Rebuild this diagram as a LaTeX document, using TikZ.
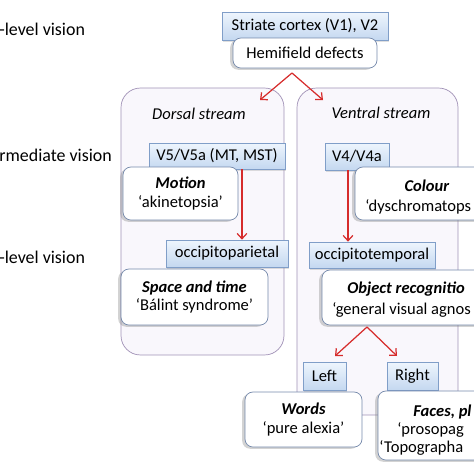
\documentclass[tikz,border=0pt]{standalone}
\usepackage{fontspec}
\setmainfont{Carlito}
\usetikzlibrary{positioning,arrows.meta,shadows}
\definecolor{boxline}{RGB}{128,158,200}
\definecolor{boxtop}{RGB}{238,245,253}
\definecolor{boxbot}{RGB}{196,216,240}
\definecolor{cardline}{RGB}{118,138,172}
\definecolor{streamline}{RGB}{160,145,182}
\definecolor{streamfill}{RGB}{249,247,252}
\definecolor{arrowred}{RGB}{214,44,44}
\tikzset{
  stream/.style={rectangle,rounded corners=11pt,draw=streamline,fill=streamfill,thin},
  area/.style={rectangle,draw=boxline,top color=boxtop,bottom color=boxbot,inner sep=2pt,font=\fontsize{9.4}{11}\selectfont,drop shadow={shadow xshift=0.6pt,shadow yshift=-1.2pt,opacity=0.25}},
  deficit/.style={rectangle,rounded corners=4.5pt,draw=cardline,fill=white,align=center,inner sep=2pt,font=\fontsize{9.4}{10.6}\selectfont,drop shadow={shadow xshift=-1.6pt,shadow yshift=-1pt,opacity=0.35}},
  note/.style={inner sep=0pt,font=\fontsize{9.4}{10.6}\selectfont},
  tier/.style={inner sep=0pt,anchor=west,font=\fontsize{10.2}{12}\selectfont},
  edge/.style={-{Straight Barb[length=3pt,width=5.5pt]},draw=arrowred,line width=0.7pt}
}
\begin{document}
\begin{tikzpicture}[x=0.02cm,y=-0.02cm]
  \useasboundingbox (0,0) rectangle (474,474);
  \clip (0,0) rectangle (474,474);
  % processing levels
  \node[tier] (low) at (-1,29) {-level vision};
  \node[tier] (mid) at (-1,155) {rmediate vision};
  \node[tier] (high) at (-1,257) {-level vision};
  % the two streams
  \node[stream,minimum width=3.26cm,minimum height=5.34cm] (dorsal) at (202.5,221.5) {};
  \node[stream,minimum width=3.22cm,minimum height=6.54cm] (ventral) at (377.5,251.5) {};
  \node[note,font=\fontsize{9.4}{11}\selectfont\itshape] (dtitle) at (199,114) {Dorsal stream};
  \node[note,font=\fontsize{9.4}{11}\selectfont\itshape] (vtitle) at (381,113) {Ventral stream};
  % early vision
  \node[area,minimum width=3.32cm,minimum height=0.56cm] (v1) at (305,26) {Striate cortex (V1), V2};
  \node[deficit,minimum width=2.88cm,minimum height=0.6cm] (hemi) at (305,53) {Hemifield defects};
  \coordinate (fork) at (292,73);
  \coordinate (dtop) at (260,100);
  \coordinate (vtop) at (323,100);
  \draw[edge] (fork) -- (dtop);
  \draw[edge] (fork) -- (vtop);
  % dorsal
  \node[area,minimum width=2.72cm,minimum height=0.52cm] (v5) at (217,156) {V5/V5a (MT, MST)};
  \node[area,minimum width=2.44cm,minimum height=0.54cm] (opar) at (227,253.5) {occipitoparietal};
  \draw[edge] ([xshift=0.5cm]v5.south) -- ([xshift=0.5cm]v5.south |- opar.north);
  \node[deficit,minimum width=2.30cm,minimum height=1.06cm] (motion) at (180.5,193.5) {\textbf{\textit{Motion}}\\‘akinetopsia’};
  \node[deficit,minimum width=2.94cm,minimum height=1.12cm] (space) at (194.5,297) {\textbf{\textit{Space and time}}\\‘Bálint syndrome’};
  % ventral
  \node[area,minimum width=1.28cm,minimum height=0.54cm] (v4) at (357,156.5) {V4/V4a};
  \node[area,minimum width=2.52cm,minimum height=0.52cm] (otemp) at (372,255) {occipitotemporal};
  \draw[edge] ([xshift=-0.18cm]v4.south) -- ([xshift=-0.18cm]v4.south |- otemp.north);
  \node[deficit,minimum width=2.9cm,minimum height=1.06cm] (colour) at (427.5,193.5) {};
  \node[note] (chead) at (427,186) {\textbf{\textit{Colour}}};
  \node[note,anchor=west] (cnote) at (365,207) {‘dyschromatops};
  \node[deficit,minimum width=3.96cm,minimum height=1.1cm] (object) at (421,297.5) {};
  \node[note,anchor=west] (ohead) at (347,289) {\textbf{\textit{Object recognitio}}};
  \node[note,anchor=west] (onote) at (332,310) {‘general visual agnos};
  \coordinate (split) at (367,327);
  \coordinate (ltop) at (335,356);
  \coordinate (rtop) at (397,356);
  \draw[edge] (split) -- (ltop);
  \draw[edge] (split) -- (rtop);
  \node[area,minimum width=0.86cm,minimum height=0.56cm] (left) at (324.5,376) {Left};
  \node[area,minimum width=1.02cm,minimum height=0.56cm] (right) at (412.5,376) {Right};
  \node[deficit,minimum width=2.34cm,minimum height=1.1cm] (words) at (303.5,419.5) {\textbf{\textit{Words}}\\‘pure alexia’};
  \node[deficit,minimum width=2.84cm,minimum height=1.38cm] (faces) at (449,425.5) {};
  \node[note,anchor=west] (fhead) at (413,412) {\textbf{\textit{Faces, pl}}};
  \node[note,anchor=west] (fnote) at (397,430) {‘prosopag};
  \node[note,anchor=west] (fnote2) at (379,448) {‘Topographa};
\end{tikzpicture}
\end{document}
